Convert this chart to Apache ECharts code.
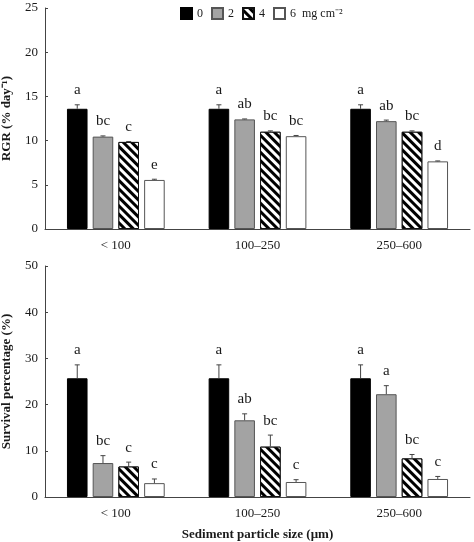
<!DOCTYPE html>
<html>
<head>
<meta charset="utf-8">
<script src="https://cdn.jsdelivr.net/npm/echarts@6/dist/echarts.min.js"></script>
<style>
html,body{margin:0;padding:0;background:#fff;}
#chart{width:474px;height:542px;}
</style>
</head>
<body>
<div id="chart"></div>
<script>
// ---- data ----
const categories = ['< 100', '100\u2013250', '250\u2013600'];
const doseNames = ['0', '2', '4', '6'];

// RGR (% day-1)
const rgr0 = [13.6, 13.6, 13.6];
const rgr2 = [10.45, 12.4, 12.2];
const rgr4 = [9.85, 11.0, 11.0];
const rgr6 = [5.55, 10.5, 7.65];
const rgrErr0 = [0.45, 0.45, 0.45];
const rgrErr2 = [0.08, 0.05, 0.12];
const rgrErr4 = [0.05, 0.1, 0.1];
const rgrErr6 = [0.08, 0.08, 0.05];
const rgrLetters0 = ['a', 'a', 'a'];
const rgrLetters2 = ['bc', 'ab', 'ab'];
const rgrLetters4 = ['c', 'bc', 'bc'];
const rgrLetters6 = ['e', 'bc', 'd'];

// Survival percentage (%)
const surv0 = [25.7, 25.7, 25.7];
const surv2 = [7.35, 16.6, 22.25];
const surv4 = [6.6, 10.9, 8.35];
const surv6 = [3.0, 3.25, 3.9];
const survErr0 = [2.9, 2.9, 2.9];
const survErr2 = [1.6, 1.4, 1.85];
const survErr4 = [0.95, 2.5, 0.85];
const survErr6 = [0.9, 0.5, 0.55];
const survLetters0 = ['a', 'a', 'a'];
const survLetters2 = ['bc', 'ab', 'a'];
const survLetters4 = ['c', 'bc', 'bc'];
const survLetters6 = ['c', 'c', 'c'];

const rgrTicks = [0, 5, 10, 15, 20, 25];
const survTicks = [0, 10, 20, 30, 40, 50];

// ---- styles ----
const FONT = '"Liberation Serif", "Times New Roman", serif';
const AXIS_COLOR = '#444';
const TEXT_COLOR = '#1a1a1a';
const CAT_GAP = 0.31, BAR_GAP = 0.25, NBARS = 4;

const barStyles = [
  {color: '#000', borderColor: '#000', borderWidth: 1},
  {color: '#a3a3a3', borderColor: '#555', borderWidth: 1},
  {color: '#fff', borderColor: '#111', borderWidth: 1,
   decal: {symbol: 'rect', symbolSize: 1, dashArrayX: [1, 0], dashArrayY: [2.2, 2.2], rotation: Math.PI / 4, color: '#000', backgroundColor: '#fff'}},
  {color: '#fff', borderColor: '#555', borderWidth: 1}
];

const rgrVals = [rgr0, rgr2, rgr4, rgr6];
const rgrErrs = [rgrErr0, rgrErr2, rgrErr4, rgrErr6];
const rgrLets = [rgrLetters0, rgrLetters2, rgrLetters4, rgrLetters6];
const survVals = [surv0, surv2, surv4, surv6];
const survErrs = [survErr0, survErr2, survErr4, survErr6];
const survLets = [survLetters0, survLetters2, survLetters4, survLetters6];

function errRender(i, letters) {
  return function (params, api) {
    const cat = api.value(0), v = api.value(1), e = api.value(2);
    const letter = letters[params.dataIndex];
    const B = api.size([1, 0])[0];
    const w = B * (1 - CAT_GAP) / (NBARS + (NBARS - 1) * BAR_GAP);
    const total = NBARS * w + (NBARS - 1) * w * BAR_GAP;
    const cx = api.coord([cat, 0])[0] - total / 2 + i * w * (1 + BAR_GAP) + w / 2;
    const yBar = api.coord([cat, v])[1];
    const yTop = api.coord([cat, v + e])[1];
    const ls = {stroke: '#444', lineWidth: 1};
    return {
      type: 'group',
      children: [
        {type: 'line', shape: {x1: cx, y1: yBar, x2: cx, y2: yTop}, style: ls},
        {type: 'line', shape: {x1: cx - 2.5, y1: yTop, x2: cx + 2.5, y2: yTop}, style: ls},
        {type: 'text', style: {text: letter, x: cx, y: yTop - 7, align: 'center', verticalAlign: 'bottom',
          font: '15px ' + FONT, fill: TEXT_COLOR}}
      ]
    };
  };
}

function makeSeries(vals, errs, lets, axisIdx) {
  const s = [];
  for (let i = 0; i < NBARS; i++) {
    s.push({
      type: 'bar', name: doseNames[i], xAxisIndex: axisIdx, yAxisIndex: axisIdx,
      data: vals[i], itemStyle: barStyles[i],
      barCategoryGap: (CAT_GAP * 100) + '%', barGap: (BAR_GAP * 100) + '%',
      emphasis: {disabled: true}, animation: false
    });
  }
  for (let i = 0; i < NBARS; i++) {
    const data = vals[i].map((v, k) => [k, v, errs[i][k]]);
    s.push({
      type: 'custom', xAxisIndex: axisIdx, yAxisIndex: axisIdx,
      renderItem: errRender(i, lets[i]),
      data: data, encode: {x: 0, y: 1}, z: 5, silent: true, animation: false
    });
  }
  return s;
}

const axisLabelStyle = {fontFamily: FONT, fontSize: 13, color: TEXT_COLOR};
function xAxis(idx, name) {
  return {
    type: 'category', gridIndex: idx, data: categories,
    axisLine: {lineStyle: {color: AXIS_COLOR, width: 1}},
    axisTick: {inside: true, length: 3, lineStyle: {color: AXIS_COLOR}},
    axisLabel: Object.assign({margin: 10}, axisLabelStyle),
    name: name, nameLocation: 'middle', nameGap: 31,
    nameTextStyle: {fontFamily: FONT, fontSize: 13, fontWeight: 'bold', color: TEXT_COLOR}
  };
}
function yAxis(idx, name, ticks) {
  return {
    type: 'value', gridIndex: idx, min: ticks[0], max: ticks[ticks.length - 1],
    interval: ticks[1] - ticks[0],
    axisLine: {show: true, lineStyle: {color: AXIS_COLOR, width: 1}},
    axisTick: {show: true, inside: true, length: 3, lineStyle: {color: AXIS_COLOR}},
    axisLabel: Object.assign({margin: 7}, axisLabelStyle),
    splitLine: {show: false},
    name: name, nameLocation: 'middle', nameGap: 32,
    nameTextStyle: {fontFamily: FONT, fontSize: 13, fontWeight: 'bold', color: TEXT_COLOR}
  };
}

const chart = echarts.init(document.getElementById('chart'), null, {renderer: 'canvas'});
chart.setOption({
  backgroundColor: '#fff',
  animation: false,
  legend: {
    data: doseNames.map(n => ({name: n, icon: 'rect'})), top: 7, left: 180, padding: 0,
    itemWidth: 11, itemHeight: 11, itemGap: 8,
    selectedMode: false,
    textStyle: {fontFamily: FONT, fontSize: 12, color: TEXT_COLOR},
    formatter: function (n) { return n === '6' ? '6  mg cm\u207B\u00B2' : n; }
  },
  grid: [
    {left: 45, right: 4, top: 8, bottom: 313, outerBoundsMode: 'none', containLabel: false},
    {left: 45, right: 4, top: 266, bottom: 45, outerBoundsMode: 'none', containLabel: false}
  ],
  xAxis: [xAxis(0, ''), xAxis(1, 'Sediment particle size (\u03BCm)')],
  yAxis: [yAxis(0, 'RGR (% day\u207B\u00B9)', rgrTicks), yAxis(1, 'Survival percentage (%)', survTicks)],
  series: makeSeries(rgrVals, rgrErrs, rgrLets, 0).concat(makeSeries(survVals, survErrs, survLets, 1))
});
</script>
</body>
</html>
